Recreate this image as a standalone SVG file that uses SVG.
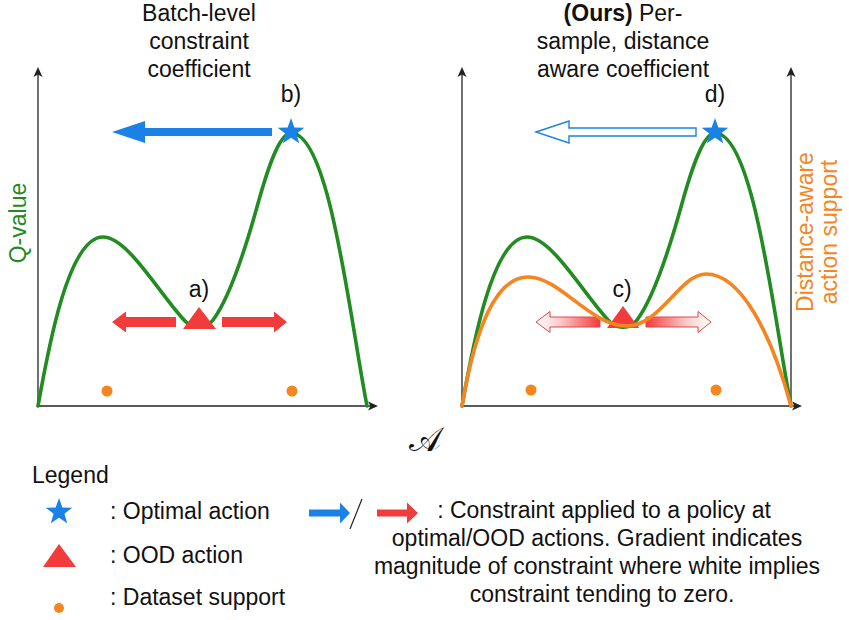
<svg xmlns="http://www.w3.org/2000/svg" xmlns:xlink="http://www.w3.org/1999/xlink" width="849" height="620" viewBox="0 0 849 620">
<style>
text{font-family:"Liberation Sans",Arial,Helvetica,sans-serif;font-size:23px;fill:#111}
.mid{text-anchor:middle}
.axis{stroke:#222;stroke-width:1.3;fill:none}
.axhead{fill:#222}
.q{fill:none;stroke:#228b22;stroke-width:3.6;stroke-linecap:round}
.sup{fill:none;stroke:#f5861f;stroke-width:3.6;stroke-linecap:round}
.blue{fill:#1a82e6}
.red{fill:#f23b3b}
.dot{fill:#f5861f}
.hollow{fill:#fff;stroke:#1a82e6;stroke-width:1.4}
.gl{stroke:#e04848;stroke-width:1}
</style>
<defs>
<path id="star" d="M0,-14 L3.35,-4.61 L13.31,-4.33 L5.42,1.76 L8.23,11.33 L0,5.7 L-8.23,11.33 L-5.42,1.76 L-13.31,-4.33 L-3.35,-4.61 Z"/>
<path id="qcurve" d="M38,406 C48,350 68,237 103,237 C128,237 160,295 185,321 C192,328 205,331 213,320 C228,300 245,250 257,207 C265,178 278,133 291,133 C330,133 350,320 367,406"/>
<linearGradient id="gL" x1="0" y1="0" x2="1" y2="0"><stop offset="0" stop-color="#fff"/><stop offset="0.35" stop-color="#fbd0d0"/><stop offset="1" stop-color="#f23b3b"/></linearGradient>
<linearGradient id="gR" x1="0" y1="0" x2="1" y2="0"><stop offset="0" stop-color="#f23b3b"/><stop offset="0.65" stop-color="#fbd0d0"/><stop offset="1" stop-color="#fff"/></linearGradient>
</defs>
<rect width="849" height="620" fill="#fff"/>

<g id="connectors">
<g id="left-axes">
<line class="axis" x1="38" y1="406" x2="38" y2="72"/>
<polygon class="axhead" points="38,67 33.5,77 38,74.5 42.5,77"/>
<line class="axis" x1="38" y1="406" x2="373" y2="406"/>
<polygon class="axhead" points="378,406 368,401.5 370.5,406 368,410.5"/>
</g>
<g id="right-axes">
<line class="axis" x1="462" y1="406" x2="462" y2="72"/>
<polygon class="axhead" points="462,67 457.5,77 462,74.5 466.5,77"/>
<line class="axis" x1="462" y1="406" x2="797" y2="406"/>
<polygon class="axhead" points="802,406 792,401.5 794.5,406 792,410.5"/>
<line class="axis" x1="791" y1="406" x2="791" y2="72"/>
<polygon class="axhead" points="791,67 786.5,77 791,74.5 795.5,77"/>
</g>
<g id="left-arrows">
<polygon class="blue" points="112,132 145,121 145,128 272,128 272,136 145,136 145,143"/>
<polygon class="red" points="112,322 126,311.5 126,317 176,317 176,327 126,327 126,332.5"/>
<polygon class="red" points="287,322 274,311.5 274,317 222,317 222,327 274,327 274,332.5"/>
</g>
<g id="right-arrows">
<polygon class="hollow" points="536,132 569,121 569,128 696,128 696,136 569,136 569,143"/>
<polygon class="gl" fill="url(#gL)" points="536,322 550,311.5 550,317 600,317 600,327 550,327 550,332.5"/>
<polygon class="gl" fill="url(#gR)" points="711,322 698,311.5 698,317 646,317 646,327 698,327 698,332.5"/>
</g>
</g>

<g id="left-panel">
<text class="mid" x="199" y="21">Batch-level</text>
<text class="mid" x="199" y="49">constraint</text>
<text class="mid" x="199" y="77">coefficient</text>
<text class="mid" transform="translate(26,223) rotate(-90)" style="fill:#228b22">Q-value</text>
<use xlink:href="#qcurve" class="q"/>
<polygon class="red" points="199,307 183,329 216,329"/>
<use xlink:href="#star" class="blue" x="291" y="132"/>
<circle class="dot" cx="107" cy="391" r="5.5"/>
<circle class="dot" cx="292" cy="391" r="5.5"/>
<text class="mid" x="199" y="297">a)</text>
<text class="mid" x="291" y="102">b)</text>
</g>

<g id="right-panel">
<text class="mid" x="623" y="21"><tspan font-weight="bold">(Ours)</tspan> Per-</text>
<text class="mid" x="623" y="49">sample, distance</text>
<text class="mid" x="623" y="77">aware coefficient</text>
<use xlink:href="#qcurve" class="q" transform="translate(424,0)"/>
<polygon class="red" points="623,306 607,328 639,328"/>
<path class="sup" d="M462,406 C475,330 495,277 528,277 C560,277 590,326 627,326 C660,326 680,274 706,274 C740,274 770,330 791,406"/>
<use xlink:href="#star" class="blue" x="715" y="132"/>
<circle class="dot" cx="531" cy="390" r="5.5"/>
<circle class="dot" cx="716" cy="390" r="5.5"/>
<text class="mid" x="622" y="297">c)</text>
<text class="mid" x="715" y="102">d)</text>
<text class="mid" transform="translate(813,232) rotate(-90)" style="fill:#f5861f">Distance-aware</text>
<text class="mid" transform="translate(837,232) rotate(-90)" style="fill:#f5861f">action support</text>
</g>

<g id="x-label">
<text class="mid" x="425" y="451" style="font-family:'DejaVu Serif','Noto Sans',serif;font-size:34px">𝒜</text>
</g>

<g id="legend">
<text x="32" y="483">Legend</text>
<g id="legend-optimal">
<use xlink:href="#star" class="blue" x="59" y="512"/>
<text x="110" y="519">: Optimal action</text>
</g>
<g id="legend-ood">
<polygon class="red" points="59,544 43,567 76,567"/>
<text x="110" y="563">: OOD action</text>
</g>
<g id="legend-support">
<circle class="dot" cx="59" cy="608" r="5"/>
<text x="110" y="605">: Dataset support</text>
</g>
<g id="legend-constraint">
<polygon class="blue" points="350,513 340,502.5 340,509.5 309,509.5 309,516.5 340,516.5 340,523.5"/>
<line x1="350" y1="529" x2="362" y2="499" stroke="#222" stroke-width="1.2"/>
<polygon class="red" points="418,513 407,502.5 407,509.5 377,509.5 377,516.5 407,516.5 407,523.5"/>
<text class="mid" x="604" y="518">: Constraint applied to a policy at</text>
<text class="mid" x="597" y="546">optimal/OOD actions. Gradient indicates</text>
<text class="mid" x="597" y="574">magnitude of constraint where white implies</text>
<text class="mid" x="602" y="602">constraint tending to zero.</text>
</g>
</g>
</svg>
